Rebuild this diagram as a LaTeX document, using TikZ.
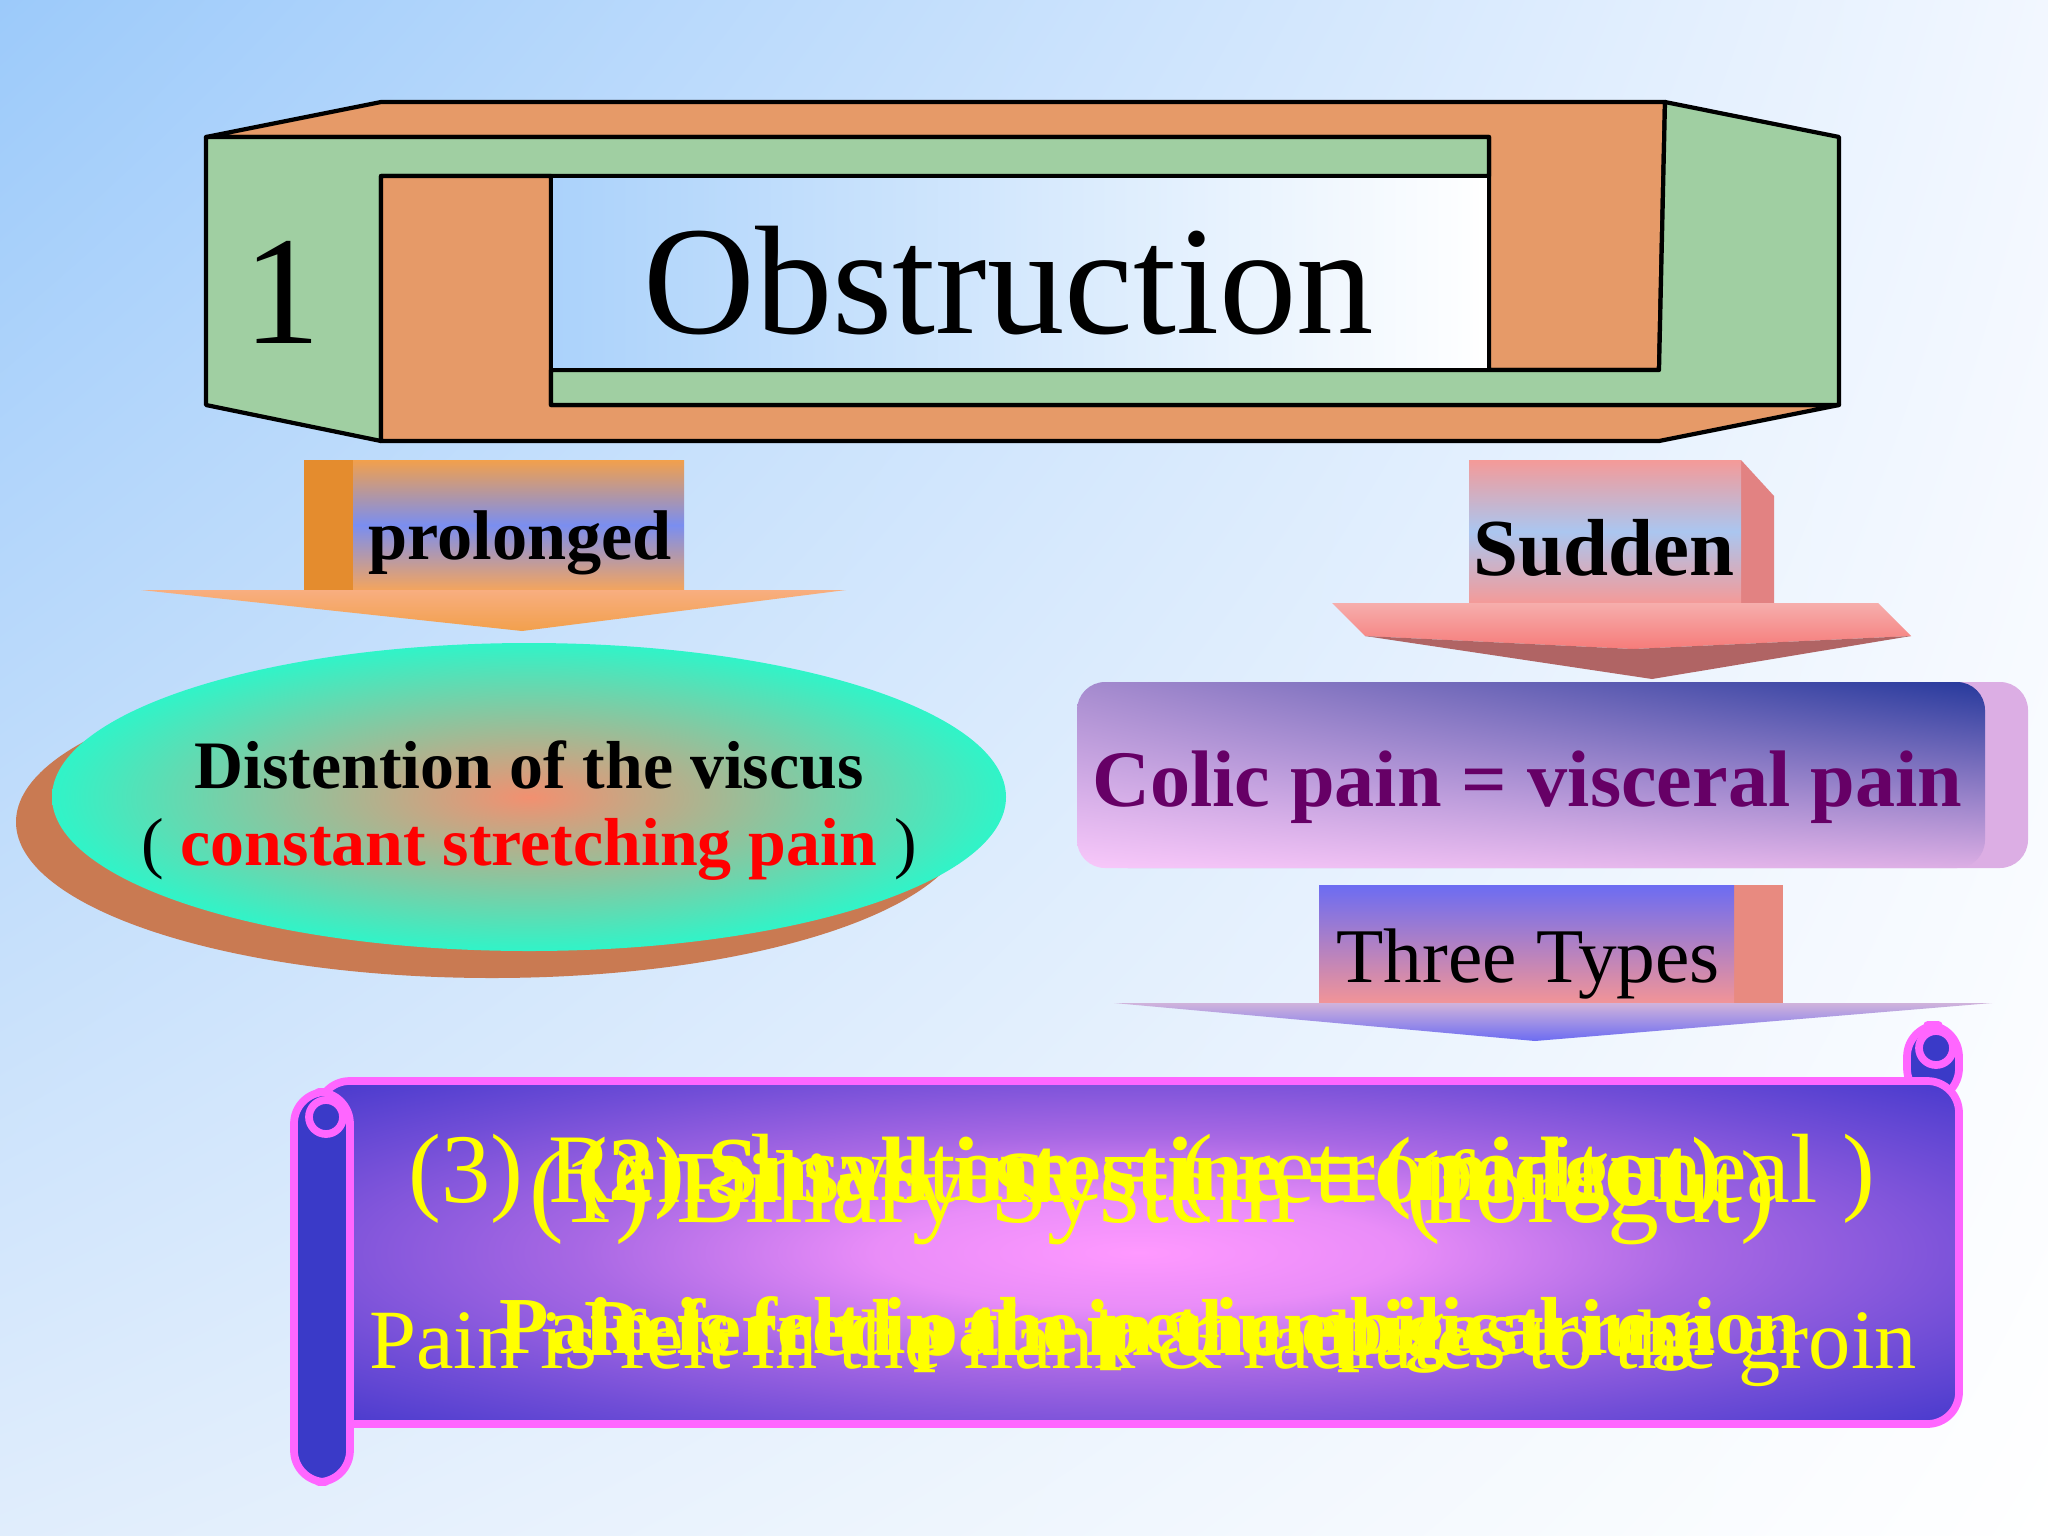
\documentclass[tikz,border=0pt]{standalone}
\usepackage{fontspec}
\setmainfont{Liberation Serif}
\usetikzlibrary{positioning,shadings}
% colours picked from the slide
\definecolor{bgblue}{HTML}{9CCAFA}
\definecolor{bgtop}{HTML}{F2F7FF}
\definecolor{bglow}{HTML}{E0EDFC}
\definecolor{bngreen}{HTML}{A0CFA2}
\definecolor{bnorange}{HTML}{E69A68}
\definecolor{prorange}{HTML}{F2A04C}
\definecolor{prside}{HTML}{E48C2E}
\definecolor{prblue}{HTML}{7A8EF0}
\definecolor{elaqua}{HTML}{30F4C8}
\definecolor{elcore}{HTML}{F29070}
\definecolor{elshadow}{HTML}{C97A52}
\definecolor{sdpink}{HTML}{F49A98}
\definecolor{sdside}{HTML}{E28282}
\definecolor{sddark}{HTML}{B06464}
\definecolor{sdblue}{HTML}{AAC6F0}
\definecolor{clnavy}{HTML}{26399C}
\definecolor{cllight}{HTML}{F8C8FA}
\definecolor{clside}{HTML}{DCAEE4}
\definecolor{cltext}{HTML}{660066}
\definecolor{ttblue}{HTML}{6C6CF2}
\definecolor{ttpink}{HTML}{F59595}
\definecolor{ttside}{HTML}{E88A80}
\definecolor{scrline}{HTML}{FF66FF}
\definecolor{scrpink}{HTML}{FF99FF}
\definecolor{scrviolet}{HTML}{A868E4}
\definecolor{scrblue}{HTML}{4438CC}
\definecolor{scrroll}{HTML}{3A3AC8}
\definecolor{scryellow}{HTML}{FFFF00}
% scroll body: pink centre fading to blue rim
\pgfdeclareradialshading{scrollglow}{\pgfpoint{0bp}{0bp}}{%
  color(0bp)=(scrpink); color(8bp)=(scrpink!75!scrviolet);
  color(17bp)=(scrviolet); color(27bp)=(scrblue!55!scrviolet);
  color(36bp)=(scrblue); color(50bp)=(scrblue)}
\begin{document}
\begin{tikzpicture}[x=0.01cm, y=-0.01cm, line join=round]
  \tikzset{
    face/.style={draw=black, line width=1.2pt},
    roll/.style={fill=scrroll, draw=scrline, line width=2.2pt},
    bigtxt/.style={anchor=base, font=\fontsize{44}{48}\selectfont},
    lbltxt/.style={anchor=base, font=\bfseries\fontsize{19.3}{23}\selectfont},
    scrtxt/.style={anchor=base, text=scryellow}
  }

  % background
  \useasboundingbox (0,0) rectangle (2048,1536);
  \shade[upper left=bgblue, upper right=bgtop, lower left=bglow, lower right=white]
    (0,0) rectangle (2048,1536);

  % title frame (four faces)
  \fill[bnorange, face] (206,137) -- (381,102) -- (1665,102) -- (1659,370)
    -- (1489,370) -- (1489,137) -- cycle;
  \fill[bngreen, face] (206,137) -- (1489,137) -- (1489,176) -- (381,176)
    -- (381,441) -- (206,405) -- cycle;
  \fill[bnorange, face] (381,176) -- (551,176) -- (551,405) -- (1839,405)
    -- (1659,441) -- (381,441) -- cycle;
  \fill[bngreen, face] (1665,102) -- (1839,137) -- (1839,405) -- (551,405)
    -- (551,370) -- (1659,370) -- cycle;
  \shade[left color=bgblue!85, right color=white, face] (551,176) rectangle (1489,370);
  \node[bigtxt] (num) at (282,343) {1};
  \node[bigtxt] (title) at (1009,333) {Obstruction};

  % prolonged arrow
  \fill[prside] (304,460) rectangle (353,590);
  \shade[top color=prorange, bottom color=prorange!85!pink, middle color=prblue]
    (353,460) rectangle (684,590);
  \shade[top color=prorange!55!pink, bottom color=prorange]
    (141,590) -- (846,590) -- (522,631) -- cycle;
  \node[lbltxt, font=\bfseries\fontsize{20}{24}\selectfont] (prol) at (520,559) {prolonged};

  % distention ellipse
  \fill[elshadow] (492,822) ellipse [x radius=476, y radius=156];
  \shade[inner color=elcore, outer color=elaqua] (529,797) ellipse [x radius=477, y radius=154];
  \node[lbltxt] (dist) at (529,788) {Distention of the viscus};
  \node[lbltxt, font=\fontsize{19.3}{23}\selectfont, below=5pt of dist.base, anchor=north]
    (stretch) {( \textbf{\textcolor{red}{constant stretching pain}} )};

  % sudden arrow
  \fill[sdside] (1741,460) -- (1774,496) -- (1774,603) -- (1741,603) -- cycle;
  \shade[top color=sdpink, bottom color=sdpink, middle color=sdblue]
    (1469,460) rectangle (1741,603);
  \shade[top color=sdpink!80!white, bottom color=sdpink!80!red]
    (1332,603) -- (1878,603) -- (1911,636) -- (1633,649) -- (1365,636) -- cycle;
  \fill[sddark] (1365,636) -- (1633,649) -- (1911,636) -- (1652,679) -- cycle;
  \node[lbltxt, font=\bfseries\fontsize{23}{27}\selectfont] (sud) at (1604,575) {Sudden};

  % colic pain box
  \fill[clside, rounded corners=8pt] (1100,682) rectangle (2028,868);
  \shade[upper right=clnavy, upper left=clside!70!clnavy, lower left=cllight,
    lower right=clside, rounded corners=8pt] (1077,682) rectangle (1985,868);
  \node[lbltxt, font=\bfseries\fontsize{22.8}{27}\selectfont, text=cltext] (colic)
    at (1527,806) {Colic pain = visceral pain};

  % three types arrow
  \fill[ttside] (1734,885) rectangle (1783,1006);
  \shade[top color=ttblue, bottom color=ttpink] (1319,885) rectangle (1734,1006);
  \shade[top color=ttpink!50!ttblue!60!white, bottom color=ttblue]
    (1114,1003) -- (1992,1003) -- (1535,1041) -- cycle;
  \node[bigtxt, font=\fontsize{22}{26}\selectfont] (three) at (1528,982) {Three Types};

  % scroll
  \draw[roll, rounded corners=9pt] (1907,1100) rectangle (1959,1025);
  \draw[roll] (1936,1048) circle [radius=17];
  \shade[shading=scrollglow, draw=scrline, line width=2.2pt, rounded corners=9pt]
    (318,1081) rectangle (1959,1424);
  \draw[roll, rounded corners=9pt] (294,1092) rectangle (350,1482);
  \draw[roll] (326,1117) circle [radius=17];

  % overlapping texts in the scroll
  \node[scrtxt, font=\fontsize{28}{32}\selectfont] (sys3) at (1142,1202)
    {(3) Renal system = ( retroperitoneal )};
  \node[scrtxt, font=\bfseries\fontsize{26}{30}\selectfont] (sys2) at (1150,1200)
    {(2) Small intestine = (midgut)};
  \node[scrtxt, font=\fontsize{29.5}{34}\selectfont] (sys1) at (1152,1222)
    {(1) Biliary System = (foregut)};
  \node[scrtxt, font=\fontsize{24}{28}\selectfont] (painA) at (1143,1368)
    {Pain is felt in the flank \& radiates to the groin};
  \node[scrtxt, font=\bfseries\fontsize{23}{27}\selectfont] (painB) at (1150,1353)
    {Pain is felt in the periumbilical region};
  \node[scrtxt, font=\bfseries\fontsize{23}{27}\selectfont] (painC) at (1150,1355)
    {Referred pain in the epigastrium};
\end{tikzpicture}
\end{document}
